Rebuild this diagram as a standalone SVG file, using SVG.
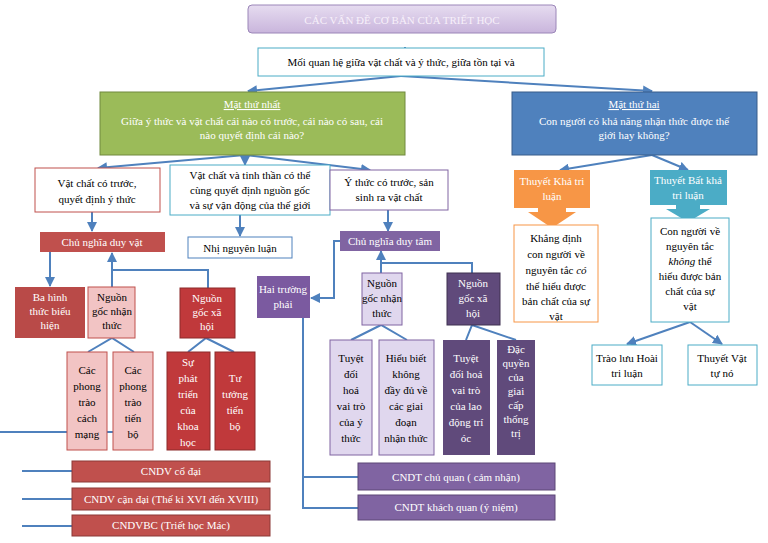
<svg xmlns="http://www.w3.org/2000/svg" width="768" height="543" viewBox="0 0 768 543">
<defs>
<marker id="ar" viewBox="0 0 10 10" refX="9" refY="5" markerWidth="5" markerHeight="5" orient="auto"><path d="M0,0L10,5L0,10z" fill="#4f81bd"/></marker>
<linearGradient id="tg" x1="0" y1="0" x2="0" y2="1"><stop offset="0" stop-color="#e6dcf0"/><stop offset="1" stop-color="#c9b5dc"/></linearGradient>
</defs>
<style>
text{font-family:"Liberation Serif",serif;font-size:11px;text-anchor:middle;fill:#000}
.w{fill:#fff}
.c line,.c polyline,.c path{stroke:#4f81bd;stroke-width:2;fill:none}
</style>
<rect width="768" height="543" fill="#fff"/>
<g class="c">
<line x1="401" y1="76" x2="248" y2="91" marker-end="url(#ar)"/>
<line x1="401" y1="76" x2="652" y2="91" marker-end="url(#ar)"/>
<line x1="405" y1="47" x2="405" y2="48"/>
<line x1="245" y1="155" x2="98" y2="168" marker-end="url(#ar)"/>
<line x1="245" y1="155" x2="245" y2="165" marker-end="url(#ar)"/>
<line x1="245" y1="155" x2="370" y2="170" marker-end="url(#ar)"/>
<line x1="92" y1="212" x2="92" y2="231" marker-end="url(#ar)"/>
<line x1="240" y1="215" x2="240" y2="236" marker-end="url(#ar)"/>
<line x1="50" y1="252" x2="50" y2="286" marker-end="url(#ar)"/>
<polyline points="112,287 112,270 208,270 208,288"/>
<line x1="112" y1="270" x2="112" y2="253" marker-end="url(#ar)"/>
<polyline points="88,352 112,338 134,352"/>
<polyline points="188,352 206,338 234,352"/>
<line x1="0" y1="432" x2="115" y2="432"/>
<line x1="22" y1="471" x2="72" y2="471"/>
<line x1="22" y1="499" x2="72" y2="499"/>
<line x1="22" y1="526" x2="72" y2="526"/>
<line x1="388" y1="210" x2="388" y2="231" marker-end="url(#ar)"/>
<polyline points="340,241 334,241 334,298 311,298" marker-end="url(#ar)"/>
<polyline points="381,273 381,263 472,263 472,273"/>
<line x1="381" y1="263" x2="381" y2="251" marker-end="url(#ar)"/>
<polyline points="351,340 381,325 407,340"/>
<polyline points="466,340 472,325 516,340"/>
<polyline points="303,318 303,508 358,508"/>
<line x1="303" y1="477" x2="358" y2="477"/>
<line x1="652" y1="155" x2="560" y2="170" marker-end="url(#ar)"/>
<line x1="652" y1="155" x2="688" y2="170" marker-end="url(#ar)"/>
<line x1="690" y1="322" x2="627" y2="344" marker-end="url(#ar)"/>
<line x1="690" y1="322" x2="722" y2="344" marker-end="url(#ar)"/>
</g>
<g id="title"><rect x="248" y="5" width="308" height="28" rx="4" fill="url(#tg)" stroke="#9b86b8"/><text x="402" y="24" font-size="14" fill="#f4eef8" style="fill:#f7f0fa">CÁC VẤN ĐỀ CƠ BẢN CỦA TRIẾT HỌC</text></g>
<g id="moiqh"><rect x="258" y="48" width="286" height="28" fill="#fff" stroke="#4bacc6"/><text x="401" y="66" font-size="12">Mối quan hệ giữa vật chất và ý thức, giữa tồn tại và</text></g>
<g id="mat1"><rect x="100" y="92" width="305" height="63" fill="#9bbb59" stroke="#71893f"/><text class="w" x="252" y="108" text-decoration="underline">Mặt thứ nhất</text><text class="w" x="252" y="125">Giữa ý thức và vật chất cái nào có trước, cái nào có sau, cái</text><text class="w" x="252" y="139">nào quyết định cái nào?</text></g>
<g id="mat2"><rect x="512" y="92" width="245" height="63" fill="#4f81bd" stroke="#385d8a"/><text class="w" x="634" y="108" text-decoration="underline">Mặt thứ hai</text><text class="w" x="634" y="125">Con người có khả năng nhận thức được thế</text><text class="w" x="634" y="139">giới hay không?</text></g>
<g id="vcct"><rect x="35" y="168" width="125" height="44" fill="#fff" stroke="#c0504d"/><text x="97" y="187" font-size="12">Vật chất có trước,</text><text x="97" y="203" font-size="12">quyết định ý thức</text></g>
<g id="vctt"><rect x="170" y="165" width="160" height="50" fill="#fff" stroke="#4bacc6"/><text x="250" y="179">Vật chất và tinh thần có thể</text><text x="250" y="194">cùng quyết định nguồn gốc</text><text x="250" y="209">và sự vận động của thế giới</text></g>
<g id="ytct"><rect x="330" y="170" width="118" height="40" fill="#fff" stroke="#8064a2"/><text x="389" y="186">Ý thức có trước, sản</text><text x="389" y="201">sinh ra vật chất</text></g>
<g id="cndv"><rect x="40" y="232" width="125" height="20" fill="#c0504d"/><text class="w" x="102" y="246" font-size="12">Chủ nghĩa duy vật</text></g>
<g id="nnl"><rect x="188" y="237" width="104" height="21" fill="#fff" stroke="#4f81bd"/><text x="240" y="252">Nhị nguyên luận</text></g>
<g id="bahinh"><rect x="15" y="287" width="70" height="51" fill="#b94a48"/><text class="w" x="50" y="301">Ba hình</text><text class="w" x="50" y="315">thức biểu</text><text class="w" x="50" y="329">hiện</text></g>
<g id="ngnt1"><rect x="88" y="287" width="47" height="51" fill="#f2c4c4" stroke="#c0504d"/><text x="112" y="301">Nguồn</text><text x="112" y="315">gốc nhận</text><text x="112" y="329">thức</text></g>
<g id="ngxh1"><rect x="180" y="288" width="55" height="50" fill="#c0393b" stroke="#8c2a2a"/><text class="w" x="207" y="302">Nguồn</text><text class="w" x="207" y="316">gốc xã</text><text class="w" x="207" y="330">hội</text></g>
<g id="cptcm"><rect x="67" y="352" width="40" height="98" fill="#f2c4c4" stroke="#c0504d"/><text x="87" y="374">Các</text><text x="87" y="390">phong</text><text x="87" y="406">trào</text><text x="87" y="422">cách</text><text x="87" y="438">mạng</text></g>
<g id="cpttb"><rect x="113" y="352" width="40" height="98" fill="#f2c4c4" stroke="#c0504d"/><text x="133" y="374">Các</text><text x="133" y="390">phong</text><text x="133" y="406">trào</text><text x="133" y="422">tiến</text><text x="133" y="438">bộ</text></g>
<g id="spt"><rect x="167" y="352" width="43" height="98" fill="#c0393b" stroke="#8c2a2a"/><text class="w" x="188" y="366">Sự</text><text class="w" x="188" y="382">phát</text><text class="w" x="188" y="398">triển</text><text class="w" x="188" y="414">của</text><text class="w" x="188" y="430">khoa</text><text class="w" x="188" y="446">học</text></g>
<g id="tttb"><rect x="215" y="352" width="40" height="98" fill="#c0393b" stroke="#8c2a2a"/><text class="w" x="235" y="382">Tư</text><text class="w" x="235" y="398">tưởng</text><text class="w" x="235" y="414">tiến</text><text class="w" x="235" y="430">bộ</text></g>
<g id="cndv1"><rect x="72" y="461" width="198" height="21" fill="#c0504d" stroke="#8c3836"/><text class="w" x="171" y="475">CNDV cổ đại</text></g>
<g id="cndv2"><rect x="72" y="488" width="198" height="22" fill="#c0504d" stroke="#8c3836"/><text class="w" x="171" y="503">CNDV cận đại (Thế kỉ XVI đến XVIII)</text></g>
<g id="cndv3"><rect x="72" y="515" width="198" height="21" fill="#c0504d" stroke="#8c3836"/><text class="w" x="171" y="529">CNDVBC (Triết học Mác)</text></g>
<g id="cndt"><rect x="340" y="231" width="100" height="20" fill="#8064a2"/><text class="w" x="390" y="245" font-size="12">Chủ nghĩa duy tâm</text></g>
<g id="htp"><rect x="257" y="276" width="53" height="42" fill="#7b5aa0"/><text class="w" x="283" y="293">Hai trường</text><text class="w" x="283" y="308">phái</text></g>
<g id="ngnt2"><rect x="362" y="273" width="40" height="52" fill="#e0d7ee" stroke="#8064a2"/><text x="382" y="287">Nguồn</text><text x="382" y="302">gốc nhận</text><text x="382" y="317">thức</text></g>
<g id="ngxh2"><rect x="447" y="273" width="53" height="52" fill="#604a7b" stroke="#3f3151"/><text class="w" x="473" y="287">Nguồn</text><text class="w" x="473" y="302">gốc xã</text><text class="w" x="473" y="317">hội</text></g>
<g id="tdh1"><rect x="330" y="340" width="42" height="115" fill="#e0d7ee" stroke="#8064a2"/><text x="351" y="362">Tuyệt</text><text x="351" y="378">đối</text><text x="351" y="394">hoá</text><text x="351" y="410">vai trò</text><text x="351" y="426">của ý</text><text x="351" y="442">thức</text></g>
<g id="hb"><rect x="379" y="340" width="55" height="115" fill="#e0d7ee" stroke="#8064a2"/><text x="406" y="362">Hiểu biết</text><text x="406" y="378">không</text><text x="406" y="394">đầy đủ về</text><text x="406" y="410">các giai</text><text x="406" y="426">đoạn</text><text x="406" y="442">nhận thức</text></g>
<g id="tdh2"><rect x="443" y="340" width="47" height="115" fill="#604a7b"/><text class="w" x="466" y="362">Tuyệt</text><text class="w" x="466" y="378">đối hoá</text><text class="w" x="466" y="394">vai trò</text><text class="w" x="466" y="410">của lao</text><text class="w" x="466" y="426">động trí</text><text class="w" x="466" y="442">óc</text></g>
<g id="dq"><rect x="497" y="340" width="38" height="115" fill="#604a7b"/><text class="w" x="516" y="353">Đặc</text><text class="w" x="516" y="367">quyền</text><text class="w" x="516" y="381">của</text><text class="w" x="516" y="395">giai</text><text class="w" x="516" y="409">cấp</text><text class="w" x="516" y="423">thống</text><text class="w" x="516" y="437">trị</text></g>
<g id="cndt1"><rect x="358" y="463" width="197" height="27" fill="#8064a2" stroke="#5c4776"/><text class="w" x="456" y="481">CNDT chủ quan ( cảm nhận)</text></g>
<g id="cndt2"><rect x="358" y="495" width="197" height="25" fill="#8064a2" stroke="#5c4776"/><text class="w" x="456" y="511">CNDT khách quan (ý niệm)</text></g>
<g id="khatri"><rect x="514" y="170" width="76" height="38" fill="#f79646"/><text class="w" x="552" y="185">Thuyết Khả tri</text><text class="w" x="552" y="200">luận</text><path d="M538,208 L566,208 L566,212 L576,212 L552,228 L528,212 L538,212z" fill="#f79646"/></g>
<g id="khd"><rect x="514" y="225" width="84" height="97" fill="#fff" stroke="#f79646"/><text x="556" y="242" font-size="12">Khẳng định</text><text x="556" y="258">con người về</text><text x="556" y="274">nguyên tắc <tspan font-style="italic">có</tspan></text><text x="556" y="290">thể hiểu được</text><text x="556" y="305">bản chất của sự</text><text x="556" y="320">vật</text></g>
<g id="batkha"><rect x="650" y="170" width="77" height="35" fill="#4bacc6"/><text class="w" x="688" y="184">Thuyết Bất khả</text><text class="w" x="688" y="199">tri luận</text><path d="M676,205 L700,205 L700,209 L710,209 L688,222 L666,209 L676,209z" fill="#4bacc6"/></g>
<g id="cnv"><rect x="651" y="218" width="78" height="104" fill="#fff" stroke="#4bacc6"/><text x="690" y="235">Con người về</text><text x="690" y="250">nguyên tắc</text><text x="690" y="265" font-style="italic">không <tspan font-style="normal">thể</tspan></text><text x="690" y="280">hiểu được bản</text><text x="690" y="295">chất của sự</text><text x="690" y="310">vật</text></g>
<g id="hoai"><rect x="592" y="345" width="70" height="40" fill="#fff" stroke="#4bacc6"/><text x="627" y="362">Trào lưu Hoài</text><text x="627" y="377">tri luận</text></g>
<g id="vattu"><rect x="688" y="345" width="69" height="40" fill="#fff" stroke="#4bacc6"/><text x="722" y="362">Thuyết Vật</text><text x="722" y="377">tự nó</text></g>
</svg>
